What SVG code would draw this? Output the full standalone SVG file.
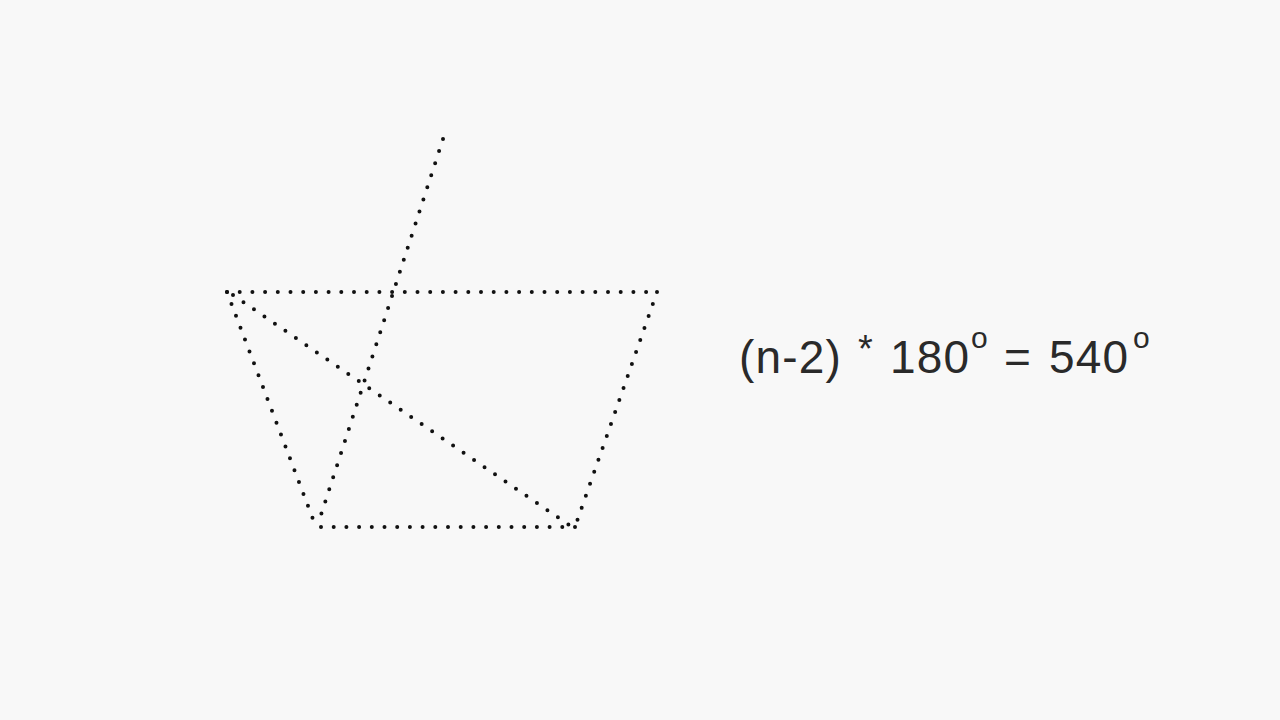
<svg xmlns="http://www.w3.org/2000/svg" width="1280" height="720" viewBox="0 0 1280 720">
<style>
.dot{fill:none;stroke:#111;stroke-width:4;stroke-linecap:round;stroke-dasharray:0 12.7}
.eq{font-family:"Liberation Sans",Arial,sans-serif;font-size:46px;letter-spacing:1.2px;fill:#2a2a2a}
.deg{font-size:30px;letter-spacing:0}
.ast{font-size:38px;letter-spacing:0}
</style>
<rect width="1280" height="720" fill="#f8f8f8"/>
<g id="connectors">
<line class="dot" x1="227" y1="292" x2="657" y2="292"/>
<line class="dot" x1="657" y1="292" x2="575" y2="527"/>
<line class="dot" x1="575" y1="527" x2="316" y2="527"/>
<line class="dot" x1="227" y1="292" x2="316" y2="527"/>
<line class="dot" x1="233" y1="295" x2="572" y2="527"/>
<line class="dot" x1="443" y1="139" x2="318" y2="524"/>
</g>
<g id="formula">
<text class="eq" y="373"><tspan x="739">(n-2)</tspan><tspan class="ast" x="858" y="362">*</tspan><tspan x="890" y="373">180</tspan><tspan class="deg" x="971" y="348">o</tspan><tspan x="1004" y="373">=</tspan><tspan x="1049">540</tspan><tspan class="deg" x="1133" y="348">o</tspan></text>
</g>
</svg>
